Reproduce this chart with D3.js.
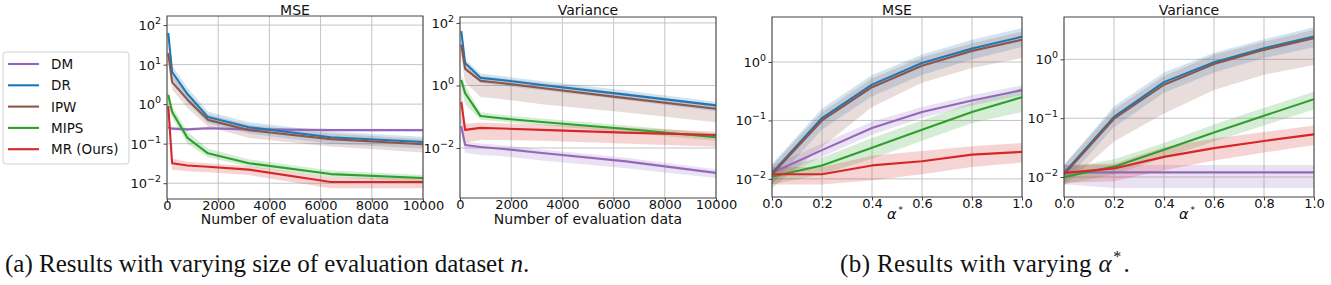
<!DOCTYPE html>
<html>
<head>
<meta charset="utf-8">
<script src="https://cdn.jsdelivr.net/npm/d3@7"></script>
<style>
  body { margin: 0; background: #fff; }
  svg { display: block; }
  text { font-family: "DejaVu Sans", sans-serif; fill: #111; }
  .cap { font-family: "Liberation Serif", "Times New Roman", serif; }
</style>
</head>
<body>
<svg id="chart" width="1331" height="285"></svg>
<script>
// categories
var methods = ["DM", "DR", "IPW", "MIPS", "MR (Ours)"];
var colors = ["#9467bd", "#1f77b4", "#8c564b", "#2ca02c", "#d62728"];
var nVals = [50, 200, 800, 1600, 3200, 6400, 10000];
var alphaVals = [0, 0.2, 0.4, 0.6, 0.8, 1.0];

// each entry: [mean, lower, upper]
var mseN_DM   = [[0.26,0.22,0.31],[0.24,0.22,0.27],[0.23,0.21,0.25],[0.245,0.225,0.27],[0.23,0.215,0.25],[0.22,0.205,0.24],[0.22,0.205,0.24]];
var mseN_DR   = [[63,45,80],[6.5,4.5,9.5],[1.8,1.1,2.6],[0.47,0.33,0.65],[0.26,0.18,0.35],[0.145,0.1,0.2],[0.11,0.075,0.15]];
var mseN_IPW  = [[19.5,12,28],[3.6,2.3,5.5],[1.3,0.8,1.9],[0.40,0.27,0.55],[0.22,0.14,0.3],[0.13,0.085,0.18],[0.097,0.06,0.13]];
var mseN_MIPS = [[1.7,1.0,2.5],[0.63,0.45,0.9],[0.14,0.1,0.2],[0.057,0.045,0.075],[0.032,0.026,0.04],[0.017,0.014,0.021],[0.0135,0.011,0.016]];
var mseN_MR   = [[0.9,0.4,2.0],[0.032,0.022,0.042],[0.028,0.02,0.035],[0.026,0.019,0.032],[0.022,0.016,0.027],[0.0107,0.0075,0.014],[0.0107,0.0075,0.0135]];

var varN_DM   = [[0.05,0.03,0.1],[0.0125,0.007,0.016],[0.0107,0.006,0.014],[0.0095,0.0055,0.0125],[0.0069,0.004,0.009],[0.0038,0.0023,0.005],[0.0016,0.0011,0.0021]];
var varN_DR   = [[55,35,75],[5.2,3.5,7],[1.75,1.2,2.4],[1.5,1.0,2.0],[1.04,0.7,1.4],[0.52,0.35,0.7],[0.23,0.15,0.3]];
var varN_IPW  = [[20,8,30],[3.4,1.3,5],[1.4,0.43,2.0],[1.2,0.37,1.7],[0.83,0.25,1.2],[0.4,0.14,0.57],[0.18,0.067,0.25]];
var varN_MIPS = [[1.5,0.9,2.2],[0.57,0.25,1.0],[0.105,0.08,0.14],[0.089,0.07,0.115],[0.068,0.053,0.088],[0.041,0.032,0.053],[0.022,0.017,0.029]];
var varN_MR   = [[0.3,0.08,1.0],[0.038,0.015,0.06],[0.044,0.018,0.065],[0.042,0.018,0.062],[0.038,0.017,0.056],[0.031,0.014,0.045],[0.026,0.011,0.033]];

var mseA_DM   = [[0.0126,0.009,0.017],[0.031,0.024,0.04],[0.074,0.057,0.095],[0.14,0.11,0.17],[0.22,0.18,0.27],[0.33,0.27,0.4]];
var mseA_DR   = [[0.0126,0.008,0.018],[0.11,0.07,0.16],[0.41,0.26,0.6],[0.96,0.6,1.35],[1.7,1.1,2.4],[2.7,1.8,3.8]];
var mseA_IPW  = [[0.012,0.007,0.017],[0.1,0.035,0.14],[0.37,0.17,0.52],[0.86,0.44,1.2],[1.55,0.79,2.1],[2.4,1.17,3.3]];
var mseA_MIPS = [[0.011,0.008,0.015],[0.017,0.012,0.023],[0.034,0.022,0.05],[0.069,0.045,0.1],[0.14,0.09,0.2],[0.25,0.14,0.36]];
var mseA_MR   = [[0.012,0.008,0.016],[0.012,0.008,0.016],[0.017,0.0095,0.025],[0.02,0.012,0.03],[0.026,0.016,0.036],[0.029,0.019,0.041]];

var varA_DM   = [[0.012,0.0075,0.016],[0.012,0.0065,0.016],[0.012,0.0065,0.016],[0.012,0.0065,0.016],[0.012,0.0065,0.016],[0.012,0.0065,0.016]];
var varA_DR   = [[0.0117,0.008,0.016],[0.105,0.07,0.16],[0.41,0.27,0.6],[0.89,0.6,1.3],[1.55,1.05,2.2],[2.45,1.6,3.5]];
var varA_IPW  = [[0.011,0.007,0.016],[0.098,0.04,0.14],[0.37,0.12,0.52],[0.83,0.3,1.2],[1.45,0.55,2.0],[2.3,0.8,3.2]];
var varA_MIPS = [[0.01,0.0075,0.014],[0.015,0.011,0.02],[0.029,0.021,0.038],[0.057,0.04,0.078],[0.11,0.075,0.15],[0.21,0.14,0.28]];
var varA_MR   = [[0.0117,0.008,0.016],[0.014,0.0085,0.017],[0.022,0.013,0.032],[0.031,0.019,0.045],[0.041,0.026,0.058],[0.053,0.035,0.075]];

var svg = d3.select("#chart");

var panels = [
  {title: "MSE", xs: nVals, series: [mseN_DM, mseN_DR, mseN_IPW, mseN_MIPS, mseN_MR],
   x0: 167, x1: 423, y0: 16, y1: 199, ylo: -2.4, yhi: 2.23, yticks: [-2,-1,0,1,2],
   xticks: [0,2000,4000,6000,8000,10000], xdom: [0,10000], xfmt: d3.format("d"), xlabel: "n"},
  {title: "Variance", xs: nVals, series: [varN_DM, varN_DR, varN_IPW, varN_MIPS, varN_MR],
   x0: 460, x1: 716, y0: 17, y1: 198, ylo: -3.6, yhi: 2.19, yticks: [-2,0,2],
   xticks: [0,2000,4000,6000,8000,10000], xdom: [0,10000], xfmt: d3.format("d"), xlabel: "n"},
  {title: "MSE", xs: alphaVals, series: [mseA_DM, mseA_DR, mseA_IPW, mseA_MIPS, mseA_MR],
   x0: 772, x1: 1022, y0: 17, y1: 197, ylo: -2.31, yhi: 0.77, yticks: [-2,-1,0],
   xticks: [0,0.2,0.4,0.6,0.8,1.0], xdom: [0,1], xfmt: d3.format(".1f"), xlabel: "a"},
  {title: "Variance", xs: alphaVals, series: [varA_DM, varA_DR, varA_IPW, varA_MIPS, varA_MR],
   x0: 1064, x1: 1314, y0: 17, y1: 197, ylo: -2.34, yhi: 0.72, yticks: [-2,-1,0],
   xticks: [0,0.2,0.4,0.6,0.8,1.0], xdom: [0,1], xfmt: d3.format(".1f"), xlabel: "a"}
];

function supText(sel, exp) {
  sel.append("tspan").text("10");
  sel.append("tspan").attr("dy", -6).style("font-size", "9.5px")
    .text(exp < 0 ? "\u2212" + Math.abs(exp) : String(exp));
}

panels.forEach(function(p, pi) {
  var x = d3.scaleLinear().domain(p.xdom).range([p.x0, p.x1]);
  var y = d3.scaleLog().domain([Math.pow(10, p.ylo), Math.pow(10, p.yhi)]).range([p.y1, p.y0]);
  var g = svg.append("g");
  var clipId = "clip" + pi;
  svg.append("clipPath").attr("id", clipId).append("rect")
    .attr("x", p.x0).attr("y", p.y0).attr("width", p.x1 - p.x0).attr("height", p.y1 - p.y0);

  // grid
  g.selectAll(".gx").data(p.xticks).enter().append("line")
    .attr("x1", function(d) { return x(d); }).attr("x2", function(d) { return x(d); })
    .attr("y1", p.y0).attr("y2", p.y1)
    .attr("stroke", "#c4c4c4").attr("stroke-width", 1);
  g.selectAll(".gy").data(p.yticks).enter().append("line")
    .attr("x1", p.x0).attr("x2", p.x1)
    .attr("y1", function(d) { return y(Math.pow(10, d)); }).attr("y2", function(d) { return y(Math.pow(10, d)); })
    .attr("stroke", "#c4c4c4").attr("stroke-width", 1);

  var plot = g.append("g").attr("clip-path", "url(#" + clipId + ")");
  var area = d3.area()
    .x(function(d, i) { return x(p.xs[i]); })
    .y0(function(d) { return y(d[1]); })
    .y1(function(d) { return y(d[2]); });
  var line = d3.line()
    .x(function(d, i) { return x(p.xs[i]); })
    .y(function(d) { return y(d[0]); });

  p.series.forEach(function(s, k) {
    plot.append("path").attr("d", area(s)).attr("fill", colors[k]).attr("fill-opacity", 0.2);
  });
  p.series.forEach(function(s, k) {
    plot.append("path").attr("d", line(s)).attr("fill", "none")
      .attr("stroke", colors[k]).attr("stroke-width", 2.1).attr("stroke-linejoin", "round");
  });

  // frame
  g.append("rect").attr("x", p.x0).attr("y", p.y0)
    .attr("width", p.x1 - p.x0).attr("height", p.y1 - p.y0)
    .attr("fill", "none").attr("stroke", "#444").attr("stroke-width", 1);

  // x axis
  var xa = g.append("g").attr("transform", "translate(0," + p.y1 + ")")
    .call(d3.axisBottom(x).tickValues(p.xticks).tickFormat(p.xfmt).tickSize(3.5).tickPadding(2));
  xa.select(".domain").remove();
  xa.selectAll("line").attr("stroke", "#444");
  xa.selectAll("text").attr("y", 11).attr("dy", null)
    .style("font-size", "13px").style("font-family", "DejaVu Sans").attr("fill", "#111");

  // y axis
  var ya = g.append("g").attr("transform", "translate(" + p.x0 + ",0)")
    .call(d3.axisLeft(y).tickValues(p.yticks.map(function(e) { return Math.pow(10, e); }))
      .tickFormat(function() { return ""; }).tickSize(3.5));
  ya.select(".domain").remove();
  ya.selectAll("line").attr("stroke", "#444");
  p.yticks.forEach(function(e) {
    var t = g.append("text").attr("x", p.x0 - 6).attr("y", y(Math.pow(10, e)) + 5)
      .attr("text-anchor", "end").style("font-size", "13px");
    supText(t, e);
  });

  // title
  g.append("text").attr("x", (p.x0 + p.x1) / 2).attr("y", 14.5)
    .attr("text-anchor", "middle").style("font-size", "14px").text(p.title);

  // x label
  if (p.xlabel === "n") {
    g.append("text").attr("x", (p.x0 + p.x1) / 2).attr("y", 224)
      .attr("text-anchor", "middle").style("font-size", "14px").text("Number of evaluation data");
  } else {
    var xl = g.append("text").attr("x", (p.x0 + p.x1) / 2 - 2).attr("y", 219)
      .attr("text-anchor", "middle").style("font-size", "14.5px");
    xl.append("tspan").style("font-style", "italic").text("\u03b1");
    xl.append("tspan").attr("dx", 1.5).attr("dy", -6).style("font-size", "9.5px").text("*");
  }
});

// legend
var leg = svg.append("g");
leg.append("rect").attr("x", 3).attr("y", 52).attr("width", 126).attr("height", 112)
  .attr("rx", 3).attr("fill", "#fff").attr("stroke", "#cfcfcf").attr("stroke-width", 1);
methods.forEach(function(m, i) {
  var yy = 64 + i * 21.3;
  leg.append("line").attr("x1", 8).attr("x2", 39).attr("y1", yy).attr("y2", yy)
    .attr("stroke", colors[i]).attr("stroke-width", 2.1);
  leg.append("text").attr("x", 51).attr("y", yy + 5).style("font-size", "13.5px").text(m);
});

// captions
var ca = svg.append("text").attr("class", "cap").attr("x", 5).attr("y", 272).style("font-size", "25px");
ca.append("tspan").text("(a) Results with varying size of evaluation dataset ");
ca.append("tspan").style("font-style", "italic").text("n");
ca.append("tspan").text(".");

var cb = svg.append("text").attr("class", "cap").attr("x", 840).attr("y", 272)
  .style("font-size", "25px").style("letter-spacing", "0.4px");
cb.append("tspan").text("(b) Results with varying ");
cb.append("tspan").style("font-style", "italic").text("\u03b1");
cb.append("tspan").attr("dx", 1).attr("dy", -10).style("font-size", "16px").text("*");
cb.append("tspan").attr("dx", 2).attr("dy", 10).text(".");
</script>
</body>
</html>
